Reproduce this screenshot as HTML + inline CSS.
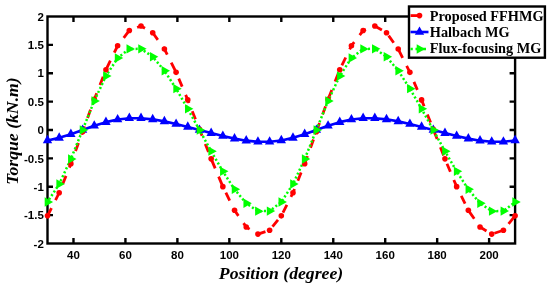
<!DOCTYPE html>
<html><head><meta charset="utf-8"><title>Torque plot</title>
<style>html,body{margin:0;padding:0;background:#fff;width:550px;height:285px;overflow:hidden}svg{display:block}</style>
</head><body>
<svg width="550" height="285" viewBox="0 0 550 285">
<rect width="550" height="285" fill="#fff"/>
<rect x="47.5" y="16.5" width="467.60" height="227.00" fill="none" stroke="#000" stroke-width="2.4"/>
<path d="M73.48,243.5v-5.5M73.48,16.5v5.5M125.43,243.5v-5.5M125.43,16.5v5.5M177.39,243.5v-5.5M177.39,16.5v5.5M229.34,243.5v-5.5M229.34,16.5v5.5M281.30,243.5v-5.5M281.30,16.5v5.5M333.26,243.5v-5.5M333.26,16.5v5.5M385.21,243.5v-5.5M385.21,16.5v5.5M437.17,243.5v-5.5M437.17,16.5v5.5M489.12,243.5v-5.5M489.12,16.5v5.5M47.5,215.12h5.5M515.1,215.12h-5.5M47.5,186.75h5.5M515.1,186.75h-5.5M47.5,158.38h5.5M515.1,158.38h-5.5M47.5,130.00h5.5M515.1,130.00h-5.5M47.5,101.62h5.5M515.1,101.62h-5.5M47.5,73.25h5.5M515.1,73.25h-5.5M47.5,44.88h5.5M515.1,44.88h-5.5" stroke="#000" stroke-width="2.4" fill="none"/>
<polyline points="47.50,140.47 59.19,137.86 70.88,134.22 82.57,130.00 94.26,125.78 105.95,122.14 117.64,119.53 129.33,118.20 141.02,118.20 152.71,119.34 164.40,121.37 176.09,123.98 187.78,126.92 199.47,130.00 211.16,133.08 222.85,136.02 234.54,138.63 246.23,140.66 257.92,141.80 269.61,141.80 281.30,140.47 292.99,137.86 304.68,134.22 316.37,130.00 328.06,125.78 339.75,122.14 351.44,119.53 363.13,118.20 374.82,118.20 386.51,119.34 398.20,121.37 409.89,123.98 421.58,126.92 433.27,130.00 444.96,133.08 456.65,136.02 468.34,138.63 480.03,140.66 491.72,141.80 503.41,141.80 515.10,140.47" fill="none" stroke="#0000ff" stroke-width="2.6" stroke-linejoin="round"/>
<polyline points="47.50,215.86 59.19,192.79 70.88,163.79 82.57,131.73 94.26,99.40 105.95,69.71 117.64,45.77 129.33,30.54 141.02,26.05 152.71,32.69 164.40,49.00 176.09,72.34 187.78,99.88 199.47,129.32 211.16,158.85 222.85,186.65 234.54,210.32 246.23,227.01 257.92,234.12 269.61,230.28 281.30,215.86 292.99,192.79 304.68,163.79 316.37,131.73 328.06,99.40 339.75,69.71 351.44,45.77 363.13,30.54 374.82,26.05 386.51,32.69 398.20,49.00 409.89,72.34 421.58,99.88 433.27,129.32 444.96,158.85 456.65,186.65 468.34,210.32 480.03,227.01 491.72,234.12 503.41,230.28 515.10,215.86" fill="none" stroke="#ff0000" stroke-width="2.8" stroke-dasharray="8.7 8.94" stroke-dashoffset="-0.1"/>
<polyline points="47.50,201.98 59.19,184.03 70.88,158.99 82.57,130.00 94.26,101.01 105.95,75.97 117.64,58.02 129.33,48.91 141.02,48.85 152.71,56.73 164.40,70.68 176.09,88.63 187.78,108.83 199.47,130.00 211.16,151.17 222.85,171.37 234.54,189.32 246.23,203.27 257.92,211.15 269.61,211.09 281.30,201.98 292.99,184.03 304.68,158.99 316.37,130.00 328.06,101.01 339.75,75.97 351.44,58.02 363.13,48.91 374.82,48.85 386.51,56.73 398.20,70.68 409.89,88.63 421.58,108.83 433.27,130.00 444.96,151.17 456.65,171.37 468.34,189.32 480.03,203.27 491.72,211.15 503.41,211.09 515.10,201.98" fill="none" stroke="#00ff00" stroke-width="2.5" stroke-dasharray="2.1 2.265" stroke-dashoffset="-2.75"/>
<polygon points="42.80,143.27 52.20,143.27 47.50,134.87" fill="#0000ff"/>
<polygon points="54.49,140.66 63.89,140.66 59.19,132.26" fill="#0000ff"/>
<polygon points="66.18,137.02 75.58,137.02 70.88,128.62" fill="#0000ff"/>
<polygon points="77.87,132.80 87.27,132.80 82.57,124.40" fill="#0000ff"/>
<polygon points="89.56,128.58 98.96,128.58 94.26,120.18" fill="#0000ff"/>
<polygon points="101.25,124.94 110.65,124.94 105.95,116.54" fill="#0000ff"/>
<polygon points="112.94,122.33 122.34,122.33 117.64,113.93" fill="#0000ff"/>
<polygon points="124.63,121.00 134.03,121.00 129.33,112.60" fill="#0000ff"/>
<polygon points="136.32,121.00 145.72,121.00 141.02,112.60" fill="#0000ff"/>
<polygon points="148.01,122.14 157.41,122.14 152.71,113.74" fill="#0000ff"/>
<polygon points="159.70,124.17 169.10,124.17 164.40,115.77" fill="#0000ff"/>
<polygon points="171.39,126.78 180.79,126.78 176.09,118.38" fill="#0000ff"/>
<polygon points="183.08,129.72 192.48,129.72 187.78,121.32" fill="#0000ff"/>
<polygon points="194.77,132.80 204.17,132.80 199.47,124.40" fill="#0000ff"/>
<polygon points="206.46,135.88 215.86,135.88 211.16,127.48" fill="#0000ff"/>
<polygon points="218.15,138.82 227.55,138.82 222.85,130.42" fill="#0000ff"/>
<polygon points="229.84,141.43 239.24,141.43 234.54,133.03" fill="#0000ff"/>
<polygon points="241.53,143.46 250.93,143.46 246.23,135.06" fill="#0000ff"/>
<polygon points="253.22,144.60 262.62,144.60 257.92,136.20" fill="#0000ff"/>
<polygon points="264.91,144.60 274.31,144.60 269.61,136.20" fill="#0000ff"/>
<polygon points="276.60,143.27 286.00,143.27 281.30,134.87" fill="#0000ff"/>
<polygon points="288.29,140.66 297.69,140.66 292.99,132.26" fill="#0000ff"/>
<polygon points="299.98,137.02 309.38,137.02 304.68,128.62" fill="#0000ff"/>
<polygon points="311.67,132.80 321.07,132.80 316.37,124.40" fill="#0000ff"/>
<polygon points="323.36,128.58 332.76,128.58 328.06,120.18" fill="#0000ff"/>
<polygon points="335.05,124.94 344.45,124.94 339.75,116.54" fill="#0000ff"/>
<polygon points="346.74,122.33 356.14,122.33 351.44,113.93" fill="#0000ff"/>
<polygon points="358.43,121.00 367.83,121.00 363.13,112.60" fill="#0000ff"/>
<polygon points="370.12,121.00 379.52,121.00 374.82,112.60" fill="#0000ff"/>
<polygon points="381.81,122.14 391.21,122.14 386.51,113.74" fill="#0000ff"/>
<polygon points="393.50,124.17 402.90,124.17 398.20,115.77" fill="#0000ff"/>
<polygon points="405.19,126.78 414.59,126.78 409.89,118.38" fill="#0000ff"/>
<polygon points="416.88,129.72 426.28,129.72 421.58,121.32" fill="#0000ff"/>
<polygon points="428.57,132.80 437.97,132.80 433.27,124.40" fill="#0000ff"/>
<polygon points="440.26,135.88 449.66,135.88 444.96,127.48" fill="#0000ff"/>
<polygon points="451.95,138.82 461.35,138.82 456.65,130.42" fill="#0000ff"/>
<polygon points="463.64,141.43 473.04,141.43 468.34,133.03" fill="#0000ff"/>
<polygon points="475.33,143.46 484.73,143.46 480.03,135.06" fill="#0000ff"/>
<polygon points="487.02,144.60 496.42,144.60 491.72,136.20" fill="#0000ff"/>
<polygon points="498.71,144.60 508.11,144.60 503.41,136.20" fill="#0000ff"/>
<polygon points="510.40,143.27 519.80,143.27 515.10,134.87" fill="#0000ff"/>
<circle cx="47.50" cy="215.86" r="2.8" fill="#ff0000"/>
<circle cx="59.19" cy="192.79" r="2.8" fill="#ff0000"/>
<circle cx="70.88" cy="163.79" r="2.8" fill="#ff0000"/>
<circle cx="82.57" cy="131.73" r="2.8" fill="#ff0000"/>
<circle cx="94.26" cy="99.40" r="2.8" fill="#ff0000"/>
<circle cx="105.95" cy="69.71" r="2.8" fill="#ff0000"/>
<circle cx="117.64" cy="45.77" r="2.8" fill="#ff0000"/>
<circle cx="129.33" cy="30.54" r="2.8" fill="#ff0000"/>
<circle cx="141.02" cy="26.05" r="2.8" fill="#ff0000"/>
<circle cx="152.71" cy="32.69" r="2.8" fill="#ff0000"/>
<circle cx="164.40" cy="49.00" r="2.8" fill="#ff0000"/>
<circle cx="176.09" cy="72.34" r="2.8" fill="#ff0000"/>
<circle cx="187.78" cy="99.88" r="2.8" fill="#ff0000"/>
<circle cx="199.47" cy="129.32" r="2.8" fill="#ff0000"/>
<circle cx="211.16" cy="158.85" r="2.8" fill="#ff0000"/>
<circle cx="222.85" cy="186.65" r="2.8" fill="#ff0000"/>
<circle cx="234.54" cy="210.32" r="2.8" fill="#ff0000"/>
<circle cx="246.23" cy="227.01" r="2.8" fill="#ff0000"/>
<circle cx="257.92" cy="234.12" r="2.8" fill="#ff0000"/>
<circle cx="269.61" cy="230.28" r="2.8" fill="#ff0000"/>
<circle cx="281.30" cy="215.86" r="2.8" fill="#ff0000"/>
<circle cx="292.99" cy="192.79" r="2.8" fill="#ff0000"/>
<circle cx="304.68" cy="163.79" r="2.8" fill="#ff0000"/>
<circle cx="316.37" cy="131.73" r="2.8" fill="#ff0000"/>
<circle cx="328.06" cy="99.40" r="2.8" fill="#ff0000"/>
<circle cx="339.75" cy="69.71" r="2.8" fill="#ff0000"/>
<circle cx="351.44" cy="45.77" r="2.8" fill="#ff0000"/>
<circle cx="363.13" cy="30.54" r="2.8" fill="#ff0000"/>
<circle cx="374.82" cy="26.05" r="2.8" fill="#ff0000"/>
<circle cx="386.51" cy="32.69" r="2.8" fill="#ff0000"/>
<circle cx="398.20" cy="49.00" r="2.8" fill="#ff0000"/>
<circle cx="409.89" cy="72.34" r="2.8" fill="#ff0000"/>
<circle cx="421.58" cy="99.88" r="2.8" fill="#ff0000"/>
<circle cx="433.27" cy="129.32" r="2.8" fill="#ff0000"/>
<circle cx="444.96" cy="158.85" r="2.8" fill="#ff0000"/>
<circle cx="456.65" cy="186.65" r="2.8" fill="#ff0000"/>
<circle cx="468.34" cy="210.32" r="2.8" fill="#ff0000"/>
<circle cx="480.03" cy="227.01" r="2.8" fill="#ff0000"/>
<circle cx="491.72" cy="234.12" r="2.8" fill="#ff0000"/>
<circle cx="503.41" cy="230.28" r="2.8" fill="#ff0000"/>
<circle cx="515.10" cy="215.86" r="2.8" fill="#ff0000"/>
<polygon points="44.70,197.28 44.70,206.68 53.10,201.98" fill="#00ff00"/>
<polygon points="56.39,179.33 56.39,188.73 64.79,184.03" fill="#00ff00"/>
<polygon points="68.08,154.29 68.08,163.69 76.48,158.99" fill="#00ff00"/>
<polygon points="79.77,125.30 79.77,134.70 88.17,130.00" fill="#00ff00"/>
<polygon points="91.46,96.31 91.46,105.71 99.86,101.01" fill="#00ff00"/>
<polygon points="103.15,71.27 103.15,80.67 111.55,75.97" fill="#00ff00"/>
<polygon points="114.84,53.32 114.84,62.72 123.24,58.02" fill="#00ff00"/>
<polygon points="126.53,44.21 126.53,53.61 134.93,48.91" fill="#00ff00"/>
<polygon points="138.22,44.15 138.22,53.55 146.62,48.85" fill="#00ff00"/>
<polygon points="149.91,52.03 149.91,61.43 158.31,56.73" fill="#00ff00"/>
<polygon points="161.60,65.98 161.60,75.38 170.00,70.68" fill="#00ff00"/>
<polygon points="173.29,83.93 173.29,93.33 181.69,88.63" fill="#00ff00"/>
<polygon points="184.98,104.13 184.98,113.53 193.38,108.83" fill="#00ff00"/>
<polygon points="196.67,125.30 196.67,134.70 205.07,130.00" fill="#00ff00"/>
<polygon points="208.36,146.47 208.36,155.87 216.76,151.17" fill="#00ff00"/>
<polygon points="220.05,166.67 220.05,176.07 228.45,171.37" fill="#00ff00"/>
<polygon points="231.74,184.62 231.74,194.02 240.14,189.32" fill="#00ff00"/>
<polygon points="243.43,198.57 243.43,207.97 251.83,203.27" fill="#00ff00"/>
<polygon points="255.12,206.45 255.12,215.85 263.52,211.15" fill="#00ff00"/>
<polygon points="266.81,206.39 266.81,215.79 275.21,211.09" fill="#00ff00"/>
<polygon points="278.50,197.28 278.50,206.68 286.90,201.98" fill="#00ff00"/>
<polygon points="290.19,179.33 290.19,188.73 298.59,184.03" fill="#00ff00"/>
<polygon points="301.88,154.29 301.88,163.69 310.28,158.99" fill="#00ff00"/>
<polygon points="313.57,125.30 313.57,134.70 321.97,130.00" fill="#00ff00"/>
<polygon points="325.26,96.31 325.26,105.71 333.66,101.01" fill="#00ff00"/>
<polygon points="336.95,71.27 336.95,80.67 345.35,75.97" fill="#00ff00"/>
<polygon points="348.64,53.32 348.64,62.72 357.04,58.02" fill="#00ff00"/>
<polygon points="360.33,44.21 360.33,53.61 368.73,48.91" fill="#00ff00"/>
<polygon points="372.02,44.15 372.02,53.55 380.42,48.85" fill="#00ff00"/>
<polygon points="383.71,52.03 383.71,61.43 392.11,56.73" fill="#00ff00"/>
<polygon points="395.40,65.98 395.40,75.38 403.80,70.68" fill="#00ff00"/>
<polygon points="407.09,83.93 407.09,93.33 415.49,88.63" fill="#00ff00"/>
<polygon points="418.78,104.13 418.78,113.53 427.18,108.83" fill="#00ff00"/>
<polygon points="430.47,125.30 430.47,134.70 438.87,130.00" fill="#00ff00"/>
<polygon points="442.16,146.47 442.16,155.87 450.56,151.17" fill="#00ff00"/>
<polygon points="453.85,166.67 453.85,176.07 462.25,171.37" fill="#00ff00"/>
<polygon points="465.54,184.62 465.54,194.02 473.94,189.32" fill="#00ff00"/>
<polygon points="477.23,198.57 477.23,207.97 485.63,203.27" fill="#00ff00"/>
<polygon points="488.92,206.45 488.92,215.85 497.32,211.15" fill="#00ff00"/>
<polygon points="500.61,206.39 500.61,215.79 509.01,211.09" fill="#00ff00"/>
<polygon points="512.30,197.28 512.30,206.68 520.70,201.98" fill="#00ff00"/>
<text x="73.48" y="259" text-anchor="middle" font-family="Liberation Sans, Arial, sans-serif" font-weight="bold" font-size="11.5">40</text>
<text x="125.43" y="259" text-anchor="middle" font-family="Liberation Sans, Arial, sans-serif" font-weight="bold" font-size="11.5">60</text>
<text x="177.39" y="259" text-anchor="middle" font-family="Liberation Sans, Arial, sans-serif" font-weight="bold" font-size="11.5">80</text>
<text x="229.34" y="259" text-anchor="middle" font-family="Liberation Sans, Arial, sans-serif" font-weight="bold" font-size="11.5">100</text>
<text x="281.30" y="259" text-anchor="middle" font-family="Liberation Sans, Arial, sans-serif" font-weight="bold" font-size="11.5">120</text>
<text x="333.26" y="259" text-anchor="middle" font-family="Liberation Sans, Arial, sans-serif" font-weight="bold" font-size="11.5">140</text>
<text x="385.21" y="259" text-anchor="middle" font-family="Liberation Sans, Arial, sans-serif" font-weight="bold" font-size="11.5">160</text>
<text x="437.17" y="259" text-anchor="middle" font-family="Liberation Sans, Arial, sans-serif" font-weight="bold" font-size="11.5">180</text>
<text x="489.12" y="259" text-anchor="middle" font-family="Liberation Sans, Arial, sans-serif" font-weight="bold" font-size="11.5">200</text>
<text x="43.8" y="247.70" text-anchor="end" font-family="Liberation Sans, Arial, sans-serif" font-weight="bold" font-size="11.5">-2</text>
<text x="43.8" y="219.32" text-anchor="end" font-family="Liberation Sans, Arial, sans-serif" font-weight="bold" font-size="11.5">-1.5</text>
<text x="43.8" y="190.95" text-anchor="end" font-family="Liberation Sans, Arial, sans-serif" font-weight="bold" font-size="11.5">-1</text>
<text x="43.8" y="162.57" text-anchor="end" font-family="Liberation Sans, Arial, sans-serif" font-weight="bold" font-size="11.5">-0.5</text>
<text x="43.8" y="134.20" text-anchor="end" font-family="Liberation Sans, Arial, sans-serif" font-weight="bold" font-size="11.5">0</text>
<text x="43.8" y="105.83" text-anchor="end" font-family="Liberation Sans, Arial, sans-serif" font-weight="bold" font-size="11.5">0.5</text>
<text x="43.8" y="77.45" text-anchor="end" font-family="Liberation Sans, Arial, sans-serif" font-weight="bold" font-size="11.5">1</text>
<text x="43.8" y="49.08" text-anchor="end" font-family="Liberation Sans, Arial, sans-serif" font-weight="bold" font-size="11.5">1.5</text>
<text x="43.8" y="20.70" text-anchor="end" font-family="Liberation Sans, Arial, sans-serif" font-weight="bold" font-size="11.5">2</text>
<text x="281" y="278.5" text-anchor="middle" font-family="Liberation Serif, Times New Roman, serif" font-weight="bold" font-style="italic" font-size="17.7">Position (degree)</text>
<text transform="translate(17.5,131) rotate(-90)" x="0" y="0" text-anchor="middle" font-family="Liberation Serif, Times New Roman, serif" font-weight="bold" font-style="italic" font-size="17.7">Torque (kN.m)</text>
<rect x="409" y="6.5" width="135.89999999999998" height="51.2" fill="#fff" stroke="#000" stroke-width="2.4"/>
<line x1="410.5" y1="15.6" x2="419.5" y2="15.6" stroke="#ff0000" stroke-width="2.8"/>
<circle cx="419.5" cy="15.6" r="2.8" fill="#ff0000"/>
<text x="429.8" y="20.6" font-family="Liberation Serif, Times New Roman, serif" font-weight="bold" font-size="14.3">Proposed FFHMG</text>
<line x1="410.5" y1="32" x2="428.5" y2="32" stroke="#0000ff" stroke-width="2.6"/>
<polygon points="414.80,34.80 424.20,34.80 419.50,26.40" fill="#0000ff"/>
<text x="429.8" y="36.9" font-family="Liberation Serif, Times New Roman, serif" font-weight="bold" font-size="14.3">Halbach MG</text>
<line x1="410.5" y1="49" x2="426" y2="49" stroke="#00ff00" stroke-width="2.5" stroke-dasharray="2.3 2.7 20"/>
<polygon points="416.70,44.30 416.70,53.70 425.10,49.00" fill="#00ff00"/>
<text x="429.8" y="52.8" font-family="Liberation Serif, Times New Roman, serif" font-weight="bold" font-size="14.3">Flux-focusing MG</text>
</svg>
</body></html>
